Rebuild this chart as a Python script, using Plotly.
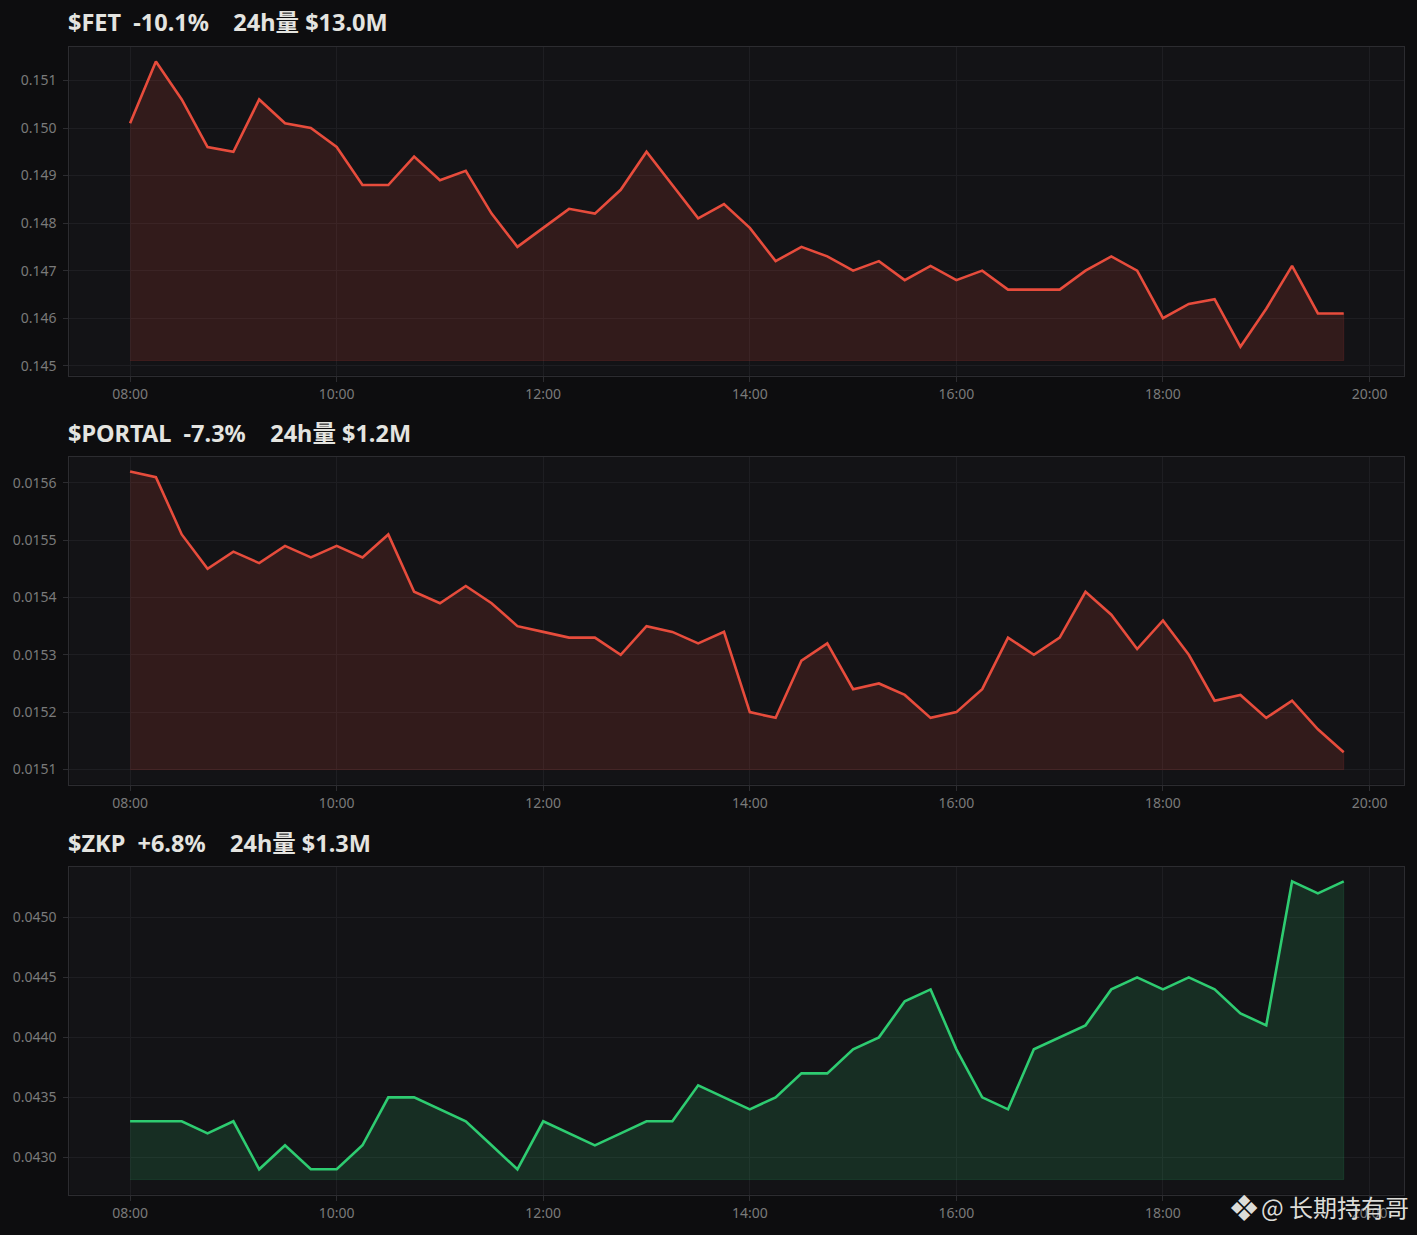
import pandas as pd
import plotly.graph_objects as go

W, H = 1417, 1235

times = pd.date_range("2025-01-01 08:00", "2025-01-01 19:45", freq="15min")

fet = [0.1501, 0.1514, 0.1506, 0.1496, 0.1495, 0.1506, 0.1501, 0.1500, 0.1496, 0.1488, 0.1488, 0.1494,
       0.1489, 0.1491, 0.1482, 0.1475, 0.1479, 0.1483, 0.1482, 0.1487, 0.1495, 0.1488, 0.1481, 0.1484,
       0.1479, 0.1472, 0.1475, 0.1473, 0.1470, 0.1472, 0.1468, 0.1471, 0.1468, 0.1470, 0.1466, 0.1466,
       0.1466, 0.1470, 0.1473, 0.1470, 0.1460, 0.1463, 0.1464, 0.1454, 0.1462, 0.1471, 0.1461, 0.1461]
portal = [0.01562, 0.01561, 0.01551, 0.01545, 0.01548, 0.01546, 0.01549, 0.01547, 0.01549, 0.01547, 0.01551, 0.01541,
          0.01539, 0.01542, 0.01539, 0.01535, 0.01534, 0.01533, 0.01533, 0.01530, 0.01535, 0.01534, 0.01532, 0.01534,
          0.01520, 0.01519, 0.01529, 0.01532, 0.01524, 0.01525, 0.01523, 0.01519, 0.01520, 0.01524, 0.01533, 0.01530,
          0.01533, 0.01541, 0.01537, 0.01531, 0.01536, 0.01530, 0.01522, 0.01523, 0.01519, 0.01522, 0.01517, 0.01513]
zkp = [0.0433, 0.0433, 0.0433, 0.0432, 0.0433, 0.0429, 0.0431, 0.0429, 0.0429, 0.0431, 0.0435, 0.0435,
       0.0434, 0.0433, 0.0431, 0.0429, 0.0433, 0.0432, 0.0431, 0.0432, 0.0433, 0.0433, 0.0436, 0.0435,
       0.0434, 0.0435, 0.0437, 0.0437, 0.0439, 0.0440, 0.0443, 0.0444, 0.0439, 0.0435, 0.0434, 0.0439,
       0.0440, 0.0441, 0.0444, 0.0445, 0.0444, 0.0445, 0.0444, 0.0442, 0.0441, 0.0453, 0.0452, 0.0453]

titles = ["$FET  -10.1%    24h量 $13.0M", "$PORTAL  -7.3%    24h量 $1.2M", "$ZKP  +6.8%    24h量 $1.3M"]
series = [fet, portal, zkp]
y_ticks = [
    [0.145, 0.146, 0.147, 0.148, 0.149, 0.150, 0.151],
    [0.0151, 0.0152, 0.0153, 0.0154, 0.0155, 0.0156],
    [0.0430, 0.0435, 0.0440, 0.0445, 0.0450],
]
y_formats = [".3f", ".4f", ".4f"]
x_ticks = pd.date_range("2025-01-01 08:00", "2025-01-01 20:00", freq="2h")
x_labels = ["08:00", "10:00", "12:00", "14:00", "16:00", "18:00", "20:00"]

RED, GREEN = "#e74c3c", "#2ecc71"
line_colors = [RED, RED, GREEN]
fill_colors = ["rgba(231,76,60,0.15)", "rgba(231,76,60,0.15)", "rgba(46,204,113,0.15)"]

BG = "#0d0d0f"
PANEL = "#131316"
GRID = "#1e1e22"
SPINE = "#2c2c30"
TICK = "#7a7a7a"
FONT = "Noto Sans, Noto Sans CJK SC, sans-serif"

# pixel boxes of the three panels (top, bottom), left and right are shared
panels = [(46.5, 375.5), (456.5, 784.5), (866.5, 1194.5)]
LEFT, RIGHT = 69.4, 1404.4

x_pad = (times[-1] - times[0]) * 0.05
x_range = [times[0] - x_pad, times[-1] + x_pad]

fig = go.Figure()
layout = {}

for i, vals in enumerate(series):
    n = "" if i == 0 else str(i + 1)
    base = min(vals) * 0.998
    pad = (max(vals) - base) * 0.05

    fig.add_trace(go.Scatter(
        x=list(times) + list(times[::-1]),
        y=vals + [base] * len(vals),
        xaxis="x" + n, yaxis="y" + n,
        mode="lines", fill="toself", fillcolor=fill_colors[i],
        line=dict(color=fill_colors[i], width=1),
        hoverinfo="skip", showlegend=False,
    ))
    fig.add_trace(go.Scatter(
        x=times, y=vals,
        xaxis="x" + n, yaxis="y" + n,
        mode="lines", line=dict(color=line_colors[i], width=2.6),
        showlegend=False,
    ))

    top, bottom = panels[i]
    axis_style = dict(
        showgrid=True, gridcolor=GRID, gridwidth=1, zeroline=False,
        showline=True, linecolor=SPINE, linewidth=1, mirror=True,
        ticks="outside", ticklen=5, tickwidth=1, tickcolor=SPINE,
        tickfont=dict(family=FONT, size=14, color=TICK),
    )
    layout["xaxis" + n] = dict(
        axis_style, domain=[LEFT / W, RIGHT / W], range=x_range, anchor="y" + n,
        tickmode="array", tickvals=list(x_ticks), ticktext=x_labels, ticklabelstandoff=1,
    )
    layout["yaxis" + n] = dict(
        axis_style, domain=[1 - bottom / H, 1 - top / H], range=[base - pad, max(vals) + pad], anchor="x" + n,
        tickmode="array", tickvals=y_ticks[i], ticktext=[format(v, y_formats[i]) for v in y_ticks[i]],
        ticklabelstandoff=4,
    )

annotations = [
    dict(text=f"<b>{t}</b>", xref="paper", yref="paper", x=LEFT / W, y=1 - (panels[i][0] - 8) / H,
         xanchor="left", yanchor="bottom", xshift=-3, yshift=-2, showarrow=False,
         font=dict(family=FONT, size=23.5, color="#e4e4e0"))
    for i, t in enumerate(titles)
]
annotations.append(dict(
    text="❖", xref="paper", yref="paper", x=1244 / W, y=1 - 1208 / H,
    xanchor="center", yanchor="middle", showarrow=False,
    font=dict(family="DejaVu Sans, sans-serif", size=36, color="#dcdcd8"),
))
annotations.append(dict(
    text="@ 长期持有哥", xref="paper", yref="paper", x=1411 / W, y=1 - 1206 / H,
    xanchor="right", yanchor="middle", showarrow=False,
    font=dict(family="Noto Sans CJK SC, sans-serif", size=24, color="#dcdcd8"),
))

fig.update_layout(
    width=W, height=H, autosize=False,
    margin=dict(l=0, r=0, t=0, b=0),
    paper_bgcolor=BG, plot_bgcolor=PANEL,
    showlegend=False,
    annotations=annotations,
    **layout,
)

fig.write_html("out.html", config={"displayModeBar": False}, post_script="document.body.style.margin='0';")
